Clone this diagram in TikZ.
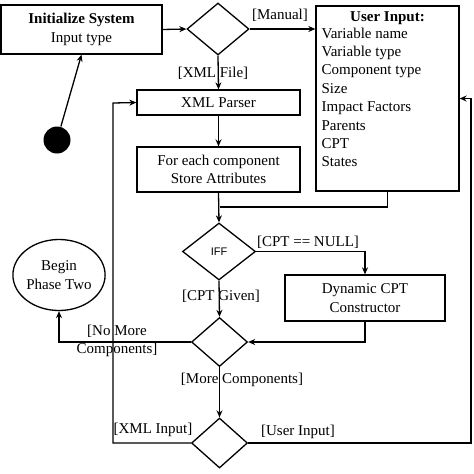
\documentclass[tikz,border=0pt]{standalone}
\usepackage{fontspec}
\setmainfont{Liberation Serif}
\newfontfamily\iffsans{Liberation Sans}
\usetikzlibrary{shapes.geometric,arrows.meta,calc}
\begin{document}
\begin{tikzpicture}[x=1pt,y=-1pt,
  font=\fontsize{15}{18.4}\selectfont,
  line width=1.3pt,
  box/.style={draw,rectangle,inner sep=0pt,align=center},
  dia/.style={draw,diamond,inner sep=0pt},
  arr/.style={-{Stealth[length=7pt,width=6pt]}},
  lbl/.style={inner sep=0pt,align=center}]
\useasboundingbox (0,0) rectangle (474,474);
% nodes
\node[box,minimum width=161pt,minimum height=49pt] (init) at (81.5,29.5) {\textbf{Initialize System}\\Input type};
\node[fill=black,circle,inner sep=0pt,minimum size=27pt] (dot) at (57,140) {};
\node[dia,minimum width=62pt,minimum height=52pt] (d1) at (218,29) {};
\node[box,minimum width=143pt,minimum height=185pt] (user) at (387.5,98.5) {};
\node[lbl] (utitle) at (387.5,18) {\textbf{User Input:}};
\node[lbl,align=left,anchor=north west] (ulist) at (321,27) {Variable name\\Variable type\\Component type\\Size\\Impact Factors\\Parents\\CPT\\States};
\node[box,minimum width=163pt,minimum height=25pt] (parser) at (218.5,102.5) {XML Parser};
\node[box,minimum width=163pt,minimum height=45pt] (foreach) at (218.5,169.5) {For each component\\Store Attributes};
\node[dia,minimum width=73pt,minimum height=57pt] (iff) at (219,251.5) {};
\node[lbl] (ifftext) at (219,252) {\iffsans\fontsize{11}{13}\selectfont IFF};
\node[box,minimum width=160pt,minimum height=46pt] (dyn) at (365,298) {Dynamic CPT\\Constructor};
\node[dia,minimum width=56pt,minimum height=49pt] (d2) at (219.5,342) {};
\node[dia,minimum width=56pt,minimum height=50pt] (d3) at (219.5,443) {};
\node[draw,ellipse,inner sep=0pt,minimum width=82pt,minimum height=71pt,align=center] (phase) at (59,275) {Begin\\Phase Two};
\coordinate (join) at (219.5,207);
\coordinate (L) at (113,103);
\coordinate (R) at (471,443);
% connectors
\draw[arr] (dot) -- (init.south);
\draw[arr] (init.east) -- (d1.west);
\draw[arr] (d1.east) -- (d1.east -| user.west);
\draw[arr] (d1.south) -- (parser.north);
\draw[arr] (parser.south) -- (foreach.north);
\draw[arr] (foreach.south) -- (iff.north);
\draw (user.south) |- (join);
\draw[arr] (iff.east) -| (dyn.north);
\draw[arr] (dyn.south) |- (d2.east);
\draw[arr] (iff.south) -- (d2.north);
\draw[arr] (d2.west) -| (phase.south);
\draw[arr] (d2.south) -- (d3.north);
\draw[arr] (d3.west) -| (L) -- (parser.west);
\draw[arr] (d3.east) -- (R) |- (user.east);
% labels
\node[lbl] (lmanual) at (280,15) {[Manual]};
\node[lbl] (lxmlfile) at (213,73) {[XML File]};
\node[lbl] (lnull) at (308,242) {[CPT == NULL]};
\node[lbl] (lgiven) at (221,296) {[CPT Given]};
\node[lbl] (lnomore) at (117,341) {[No More\\Components]};
\node[lbl] (lmore) at (242,380) {[More Components]};
\node[lbl] (lxmlin) at (153,430) {[XML Input]};
\node[lbl] (luserin) at (298,432) {[User Input]};
\end{tikzpicture}
\end{document}
